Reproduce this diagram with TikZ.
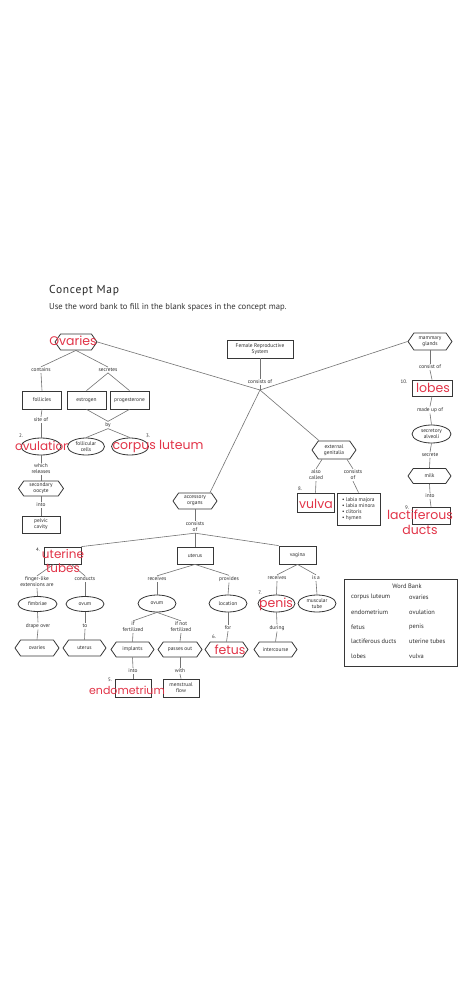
\documentclass[tikz,border=0pt]{standalone}
\usepackage{fontspec}
\setmainfont{PT Sans}
\newfontfamily\hand{Poppins}
\usetikzlibrary{shapes.geometric,shapes.symbols,calc}
\definecolor{redhw}{RGB}{226,52,72}
\definecolor{linec}{RGB}{115,115,115}
\definecolor{boxc}{RGB}{55,55,55}
\definecolor{txtc}{RGB}{45,45,45}
\tikzset{
  every node/.style={font=\fontsize{5.4}{6}\selectfont, text=txtc, align=center, inner sep=0.6pt},
  box/.style 2 args={rectangle, draw=boxc, line width=0.8pt, fill=white, minimum width=#1, minimum height=#2},
  hex/.style 2 args={signal, signal to=east and west, signal pointer angle=110, draw=boxc, line width=0.8pt, fill=white, minimum width=#1, minimum height=#2, inner sep=0.3pt},
  ell/.style 2 args={ellipse, draw=boxc, line width=0.8pt, fill=white, minimum width=#1, minimum height=#2, inner sep=0pt},
  lab/.style={inner sep=1pt},
  num/.style={font=\fontsize{5}{5}\selectfont, inner sep=0pt},
  hw/.style={font=\hand\fontsize{12.5}{15}\selectfont, text=redhw, inner sep=0pt},
  conn/.style={draw=linec, line width=0.6pt},
  wbt/.style={anchor=west, inner sep=0pt, font=\fontsize{6.4}{7}\selectfont}
}
\begin{document}
\begin{tikzpicture}[x=1pt,y=-1pt]
\fill[white] (0,0) rectangle (474,984);
\useasboundingbox (0,0) rectangle (474,984);

% title
\node[anchor=west, inner sep=0pt, text=black!85, font=\fontsize{11.5}{12}\selectfont\addfontfeatures{LetterSpace=6}] (title) at (49,291) {Concept Map};
\node[anchor=west, inner sep=0pt, text=black!80, font=\fontsize{8.6}{9}\selectfont] (sub) at (49,307) {Use the word bank to fill in the blank spaces in the concept map.};

% ovaries branch
\node[hex={42}{16}] (ovh) at (76,342) {};
\node[lab] (contains) at (41,370) {contains};
\node[lab] (secretes) at (108,370) {secretes};
\node[box={39}{18}] (fol) at (42,400) {follicles};
\node[box={39}{18}] (est) at (86.5,400) {estrogen};
\node[box={39}{18}] (pro) at (129.5,400) {progesterone};
\node[lab] (by) at (108,425) {by};
\node[lab] (siteof) at (41,420) {site of};
\node[num] (n2) at (21,436) {2.};
\node[ell={40}{17}] (ovu) at (41,446.5) {};
\node[hw, font=\hand\fontsize{12}{15}\selectfont] (hovu) at (43,446) {ovulation};
\node[ell={37}{17}] (fc) at (86,446.5) {follicular\\cells};
\node[ell={37}{17}] (cl) at (130,446.5) {};
\node[num] (n3) at (148,436) {3.};
\node[lab] (wr) at (41,469) {which\\releases};
\node[hex={45}{15}] (so) at (41,488.5) {secondary\\oocyte};
\node[lab] (into1) at (41,505) {into};
\node[box={38}{17}] (pc) at (41,524.5) {pelvic\\cavity};

% centre
\node[box={66}{18}] (frs) at (260,349) {Female Reproductive\\System};
\node[lab] (co1) at (260,382) {consists of};
\coordinate (j) at (260,390);

% mammary
\node[hex={44}{17}] (mg) at (430,341.5) {mammary\\glands};
\node[lab] (comg) at (430,367) {consist of};
\node[num] (n10) at (404,382) {10.};
\node[box={40}{16}] (lobes) at (432,388) {};
\node[lab] (mu) at (430,410) {made up of};
\node[ell={39}{18}] (sa) at (431.5,434) {secretory\\alveoli};
\node[lab] (sec) at (430,455) {secrete};
\node[hex={43}{15}] (milk) at (429.5,476) {milk};
\node[lab] (into2) at (430,496) {into};
\node[num] (n9) at (407,508) {9.};
\node[box={38}{17}] (ld) at (431,515.5) {};

% external genitalia
\node[hex={44}{18}] (eg) at (334,450) {external\\genitalia};
\node[lab] (also) at (316,475) {also\\called};
\node[lab] (cons2) at (353,475) {consists\\of};
\node[num] (n8) at (300,489) {8.};
\node[box={37}{19}] (vul) at (315.5,502.5) {};
\node[box={43}{32}, align=left] (list) at (358.5,509) {• labia majora\\• labia minora\\• clitoris\\• hymen};

% accessory organs
\node[hex={44}{16}] (acc) at (195,501) {accessory\\organs};
\node[lab] (co2) at (195,527) {consists\\of};
\node[num] (n4) at (38,550) {4.};
\node[box={37}{17}] (ut) at (62.5,555.5) {};
\node[box={36}{17}] (uterus) at (195,555.5) {uterus};
\node[box={37}{18}] (vag) at (297.5,555) {vagina};

% uterine tubes branch
\node[lab] (fl) at (37,582) {finger-like\\extensions are};
\node[lab] (cond) at (85,579) {conducts};
\node[ell={39}{15}] (fim) at (37.5,604) {fimbriae};
\node[ell={38}{15}] (ov1) at (85,604) {ovum};
\node[lab] (drape) at (38,626) {drape over};
\node[lab] (lto) at (85,626) {to};
\node[hex={44}{16}] (ovb) at (37,648) {ovaries};
\node[hex={43}{16}] (uth) at (84.5,648) {uterus};

% uterus branch
\node[lab] (rec1) at (157,579) {receives};
\node[lab] (prov) at (229,579) {provides};
\node[ell={38}{17}] (ov2) at (157,603.5) {ovum};
\node[ell={38}{17}] (loc) at (228,603.5) {location};
\node[lab] (iff) at (133,627) {if\\fertilized};
\node[lab] (ifn) at (181,627) {if not\\fertilized};
\node[hex={43}{15}] (imp) at (132.5,649.5) {implants};
\node[hex={44}{15}] (pas) at (180,649.5) {passes out};
\node[lab] (into3) at (133,671) {into};
\node[lab] (lwith) at (180,671) {with};
\node[num] (n5) at (110,680) {5.};
\node[box={36}{18}] (endo) at (133,688) {};
\node[box={36}{18}] (mf) at (181,688) {menstrual\\flow};
\node[lab] (lfor) at (228,628) {for};
\node[num] (n6) at (214,637) {6.};
\node[hex={43}{15}] (fet) at (226.5,649.5) {};

% vagina branch
\node[lab] (rec2) at (277,578) {receives};
\node[lab] (isa) at (316,578) {is a};
\node[num] (n7) at (260,593) {7.};
\node[ell={37}{17}] (pen) at (276.5,603.5) {};
\node[ell={38}{17}] (mt) at (317,603.5) {muscular\\tube};
\node[lab] (dur) at (277,628) {during};
\node[hex={43}{15}] (inter) at (275.5,649.5) {intercourse};

% word bank
\node[rectangle, draw=boxc, line width=0.8pt, minimum width=113, minimum height=87] (wb) at (400.5,622.5) {};
\node[inner sep=0pt, font=\fontsize{6.4}{7}\selectfont] (wbt) at (407,586) {Word Bank};
\node[wbt] (w1) at (351,597) {corpus luteum};
\node[wbt] (w2) at (409,597) {ovaries};
\node[wbt] (w3) at (351,612) {endometrium};
\node[wbt] (w4) at (409,612) {ovulation};
\node[wbt] (w5) at (351,627) {fetus};
\node[wbt] (w6) at (409,627) {penis};
\node[wbt] (w7) at (351,641) {lactiferous ducts};
\node[wbt] (w8) at (409,641) {uterine tubes};
\node[wbt] (w9) at (351,656) {lobes};
\node[wbt] (w10) at (409,656) {vulva};

% connectors
\draw[conn] (ovh.south) -- (contains.north);
\draw[conn] (ovh.south) -- (secretes.north);
\draw[conn] (contains.south) -- (fol.north);
\draw[conn] (secretes.south) -- (est.north);
\draw[conn] (secretes.south) -- (pro.north);
\draw[conn] (est.south) -- (by.north);
\draw[conn] (pro.south) -- (by.north);
\draw[conn] (by.south) -- (fc.north);
\draw[conn] (by.south) -- (cl.north);
\draw[conn] (fol.south) -- (siteof.north);
\draw[conn] (siteof.south) -- (ovu.north);
\draw[conn] (ovu.south) -- (wr.north);
\draw[conn] (wr.south) -- (so.north);
\draw[conn] (so.south) -- (into1.north);
\draw[conn] (into1.south) -- (pc.north);

\draw[conn] (frs.south) -- (co1.north);
\draw[conn] (co1.south) -- (j);
\draw[conn] (j) -- (ovh.east);
\draw[conn] (j) -- (mg.west);
\draw[conn] (j) -- ($(acc.north)+(15,0)$);
\draw[conn] (j) -- ($(eg.north)+(-15,0)$);

\draw[conn] (mg.south) -- (comg.north);
\draw[conn] (comg.south) -- (lobes.north);
\draw[conn] (lobes.south) -- (mu.north);
\draw[conn] (mu.south) -- (sa.north);
\draw[conn] (sa.south) -- (sec.north);
\draw[conn] (sec.south) -- (milk.north);
\draw[conn] (milk.south) -- (into2.north);
\draw[conn] (into2.south) -- (ld.north);

\draw[conn] ($(eg.south)+(-12,0)$) -- (also.north);
\draw[conn] ($(eg.south)+(13,0)$) -- (cons2.north);
\draw[conn] (also.south) -- (vul.north);
\draw[conn] (cons2.south) -- (list.north);

\draw[conn] (acc.south) -- (co2.north);
\draw[conn] (co2.south) -- (ut.north east);
\draw[conn] (co2.south) -- (uterus.north);
\draw[conn] (co2.south) -- (vag.north west);

\draw[conn] ($(ut.south)+(-9,0)$) -- (fl.north);
\draw[conn] ($(ut.south)+(9,0)$) -- (cond.north);
\draw[conn] (fl.south) -- (fim.north);
\draw[conn] (cond.south) -- (ov1.north);
\draw[conn] (fim.south) -- (drape.north);
\draw[conn] (drape.south) -- (ovb.north);
\draw[conn] (ov1.south) -- (lto.north);
\draw[conn] (lto.south) -- (uth.north);

\draw[conn] (uterus.south) -- (rec1.north);
\draw[conn] (uterus.south) -- (prov.north);
\draw[conn] (rec1.south) -- (ov2.north);
\draw[conn] (prov.south) -- (loc.north);
\draw[conn] (ov2.south) -- (iff.north);
\draw[conn] (ov2.south) -- (ifn.north);
\draw[conn] (iff.south) -- (imp.north);
\draw[conn] (ifn.south) -- (pas.north);
\draw[conn] (imp.south) -- (into3.north);
\draw[conn] (into3.south) -- (endo.north);
\draw[conn] (pas.south) -- (lwith.north);
\draw[conn] (lwith.south) -- (mf.north);
\draw[conn] (loc.south) -- (lfor.north);
\draw[conn] (lfor.south) -- (fet.north);

\draw[conn] (vag.south) -- (rec2.north);
\draw[conn] (vag.south) -- (isa.north);
\draw[conn] (rec2.south) -- (pen.north);
\draw[conn] (isa.south) -- (mt.north);
\draw[conn] (pen.south) -- (dur.north);
\draw[conn] (dur.south) -- (inter.north);

% handwritten answers
\node[hw] (hov) at (73,341) {Ovaries};
\node[hw] (hcl) at (158,446) {corpus luteum};
\node[hw] (hlo) at (433,388) {lobes};
\node[hw] (hvu) at (316,504) {vulva};
\node[hw] (hld) at (420,522) {lactiferous\\ducts};
\node[hw, font=\hand\fontsize{12}{14.5}\selectfont] (hut) at (63,561) {uterine\\tubes};
\node[hw, font=\hand\fontsize{11}{14}\selectfont] (hen) at (127,690) {endometrium};
\node[hw] (hfe) at (230,650) {fetus};
\node[hw] (hpe) at (276,604) {penis};
\end{tikzpicture}
\end{document}
